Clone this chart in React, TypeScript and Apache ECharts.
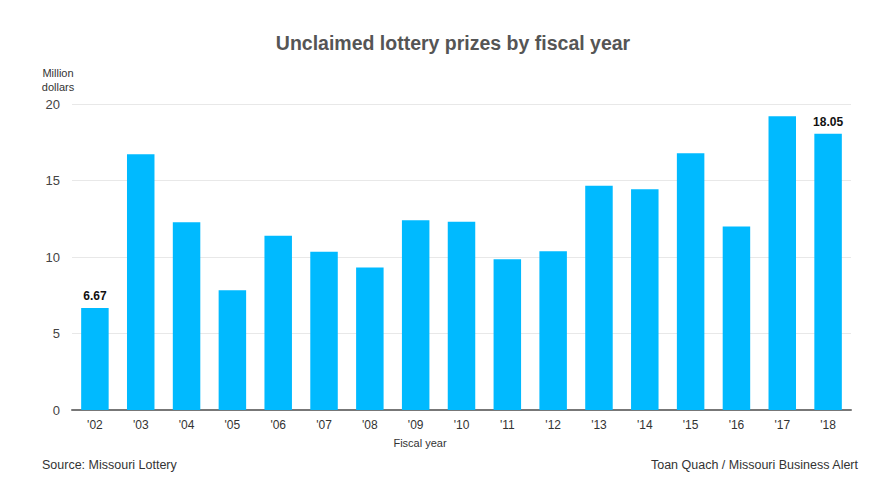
import React, { useEffect, useRef } from "react";
import * as echarts from "echarts";

const years = ["'02", "'03", "'04", "'05", "'06", "'07", "'08", "'09", "'10", "'11", "'12", "'13", "'14", "'15", "'16", "'17", "'18"];
const values = [6.67, 16.71, 12.27, 7.82, 11.39, 10.35, 9.32, 12.4, 12.31, 9.85, 10.37, 14.66, 14.42, 16.78, 12.0, 19.2, 18.05];
const labeledYears = ["'02", "'18"];
const yMin = 0;
const yMax = 20;
const yInterval = 5;

const FONT = "Liberation Sans, Arial, Helvetica, sans-serif";

export default function App() {
  const ref = useRef<HTMLDivElement>(null);
  useEffect(() => {
    if (!ref.current) return;
    const chart = echarts.init(ref.current, undefined, { renderer: "svg" });
    chart.setOption({
      animation: false,
      backgroundColor: "#ffffff",
      textStyle: { fontFamily: FONT },
      grid: { left: 72, right: 34, top: 104, bottom: 90, containLabel: false },
      xAxis: {
        type: "category",
        data: years,
        axisLine: { show: true, lineStyle: { color: "#777777", width: 2 } },
        axisTick: { show: false },
        axisLabel: { color: "#333333", fontSize: 12, margin: 9, fontFamily: FONT },
      },
      yAxis: {
        type: "value",
        min: yMin,
        max: yMax,
        interval: yInterval,
        axisLine: { show: false },
        axisTick: { show: false },
        splitLine: { lineStyle: { color: "#e8e8e8", width: 1 } },
        axisLabel: { color: "#444444", fontSize: 13, margin: 12, fontFamily: FONT },
      },
      series: [
        {
          type: "bar",
          barWidth: "60%",
          data: values.map((v, i) => ({
            value: v,
            label: {
              show: labeledYears.includes(years[i]),
              position: "top",
              distance: 6,
              color: "#111111",
              fontWeight: "bold",
              fontSize: 12,
              fontFamily: FONT,
              formatter: (p: any) => p.value.toFixed(2),
            },
          })),
          itemStyle: { color: "#00baff" },
        },
      ],
      graphic: [
        {
          type: "text",
          x: 453,
          y: 43,
          style: {
            text: "Unclaimed lottery prizes by fiscal year",
            fontSize: 19.5,
            fontWeight: "bold",
            fill: "#555555",
            fontFamily: FONT,
            textAlign: "center",
            textVerticalAlign: "middle",
          },
        },
        {
          type: "text",
          x: 58,
          y: 80,
          style: {
            text: "Million\ndollars",
            fontSize: 11,
            lineHeight: 14,
            fill: "#333333",
            fontFamily: FONT,
            textAlign: "center",
            textVerticalAlign: "middle",
          },
        },
        {
          type: "text",
          x: 420,
          y: 443,
          style: {
            text: "Fiscal year",
            fontSize: 11,
            fill: "#333333",
            fontFamily: FONT,
            textAlign: "center",
            textVerticalAlign: "middle",
          },
        },
        {
          type: "text",
          x: 42,
          y: 465,
          style: {
            text: "Source: Missouri Lottery",
            fontSize: 12.5,
            fill: "#333333",
            fontFamily: FONT,
            textAlign: "left",
            textVerticalAlign: "middle",
          },
        },
        {
          type: "text",
          x: 858,
          y: 465,
          style: {
            text: "Toan Quach / Missouri Business Alert",
            fontSize: 12.5,
            fill: "#333333",
            fontFamily: FONT,
            textAlign: "right",
            textVerticalAlign: "middle",
          },
        },
      ],
    });
    return () => chart.dispose();
  }, []);
  return <div ref={ref} style={{ position: "fixed", left: 0, top: 0, width: 885, height: 500 }} />;
}
